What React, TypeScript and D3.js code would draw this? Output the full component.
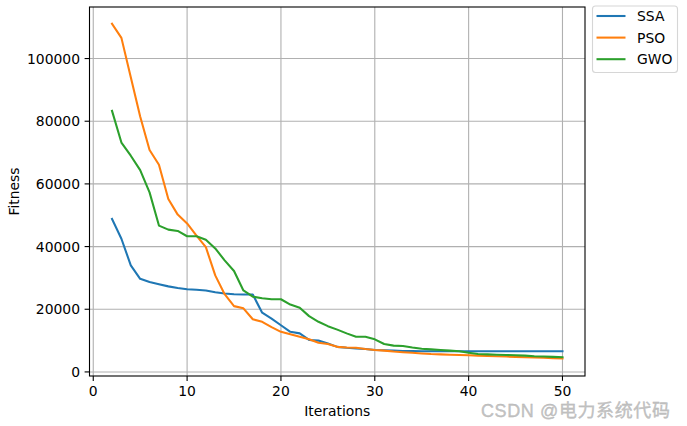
import React from "react";
import * as d3 from "d3";

const iterations = d3.range(2, 51);
const ssaValues = [48800, 42500, 34000, 29700, 28700, 28000, 27300, 26800, 26400, 26200, 26000, 25400, 25000, 24800, 24700, 24700, 18900, 17000, 14900, 12800, 12300, 10200, 10000, 9100, 8000, 7700, 7500, 7300, 7000, 6900, 6800, 6700, 6700, 6600, 6600, 6600, 6600, 6600, 6600, 6600, 6600, 6600, 6600, 6600, 6600, 6600, 6600, 6600, 6600];
const psoValues = [111100, 106600, 94000, 81500, 70800, 66100, 55200, 50200, 47400, 43500, 39800, 30800, 24800, 21000, 20300, 16800, 16000, 14300, 12800, 12000, 11200, 10400, 9300, 8900, 8000, 7800, 7700, 7300, 7000, 6800, 6500, 6300, 6100, 5900, 5700, 5600, 5500, 5400, 5300, 5200, 5100, 5000, 4900, 4800, 4700, 4600, 4500, 4400, 4300];
const gwoValues = [83300, 73200, 69000, 64400, 57300, 46700, 45400, 45000, 43300, 43300, 42200, 39400, 35600, 32200, 26000, 24000, 23500, 23200, 23200, 21500, 20500, 17800, 16000, 14600, 13500, 12300, 11200, 11200, 10400, 8900, 8400, 8300, 7800, 7400, 7200, 7000, 6800, 6600, 6100, 5700, 5600, 5500, 5400, 5300, 5200, 5000, 4900, 4800, 4700];

const seriesNames = ["SSA", "PSO", "GWO"];
const seriesColors = ["#1f77b4", "#ff7f0e", "#2ca02c"];
const xTicks = [0, 10, 20, 30, 40, 50];
const yTicks = [0, 20000, 40000, 60000, 80000, 100000];

export default function App() {
  const W = 687, H = 426;
  const left = 89.5, right = 585, top = 7, bottom = 376;
  const x = d3.scaleLinear().domain([-0.4, 52.4]).range([left, right]);
  const y = d3.scaleLinear().domain([-1300, 116450]).range([bottom, top]);
  const allSeries = [ssaValues, psoValues, gwoValues];
  const line = d3.line<number>().x((_, i) => x(iterations[i])).y((v) => y(v));
  const font = "DejaVu Sans, sans-serif";
  const fs = 13.9;

  return (
    <svg width={W} height={H} style={{ position: "absolute", left: 0, top: 0, background: "#fff" }}>
      <rect x={0} y={0} width={W} height={H} fill="#fff" />
      <defs>
        <clipPath id="plotclip">
          <rect x={left} y={top} width={right - left} height={bottom - top} />
        </clipPath>
      </defs>
      {/* grid */}
      {xTicks.map((t) => (
        <line key={"gx" + t} x1={x(t)} x2={x(t)} y1={top} y2={bottom} stroke="#b0b0b0" strokeWidth={1.1} />
      ))}
      {yTicks.map((t) => (
        <line key={"gy" + t} x1={left} x2={right} y1={y(t)} y2={y(t)} stroke="#b0b0b0" strokeWidth={1.1} />
      ))}
      {/* series */}
      <g clipPath="url(#plotclip)">
        {allSeries.map((s, i) => (
          <path key={i} d={line(s) || ""} fill="none" stroke={seriesColors[i]} strokeWidth={2.08} strokeLinejoin="round" strokeLinecap="square" />
        ))}
      </g>
      {/* spines */}
      <rect x={left} y={top} width={right - left} height={bottom - top} fill="none" stroke="#000" strokeWidth={1.1} />
      {/* x ticks */}
      {xTicks.map((t) => (
        <g key={"tx" + t}>
          <line x1={x(t)} x2={x(t)} y1={bottom} y2={bottom + 4.9} stroke="#000" strokeWidth={1.1} />
          <text x={x(t)} y={396} textAnchor="middle" fontFamily={font} fontSize={fs} fill="#000">{t}</text>
        </g>
      ))}
      {/* y ticks */}
      {yTicks.map((t) => (
        <g key={"ty" + t}>
          <line x1={left - 4.9} x2={left} y1={y(t)} y2={y(t)} stroke="#000" strokeWidth={1.1} />
          <text x={80} y={y(t) + 5} textAnchor="end" fontFamily={font} fontSize={fs} fill="#000">{t}</text>
        </g>
      ))}
      {/* axis labels */}
      <text x={(left + right) / 2} y={416} textAnchor="middle" fontFamily={font} fontSize={fs} fill="#000">Iterations</text>
      <text transform={`translate(18.5, ${(top + bottom) / 2}) rotate(-90)`} textAnchor="middle" fontFamily={font} fontSize={fs} fill="#000">Fitness</text>
      {/* legend */}
      <rect x={592.5} y={6} width={85} height={66.5} rx={3} fill="#fff" fillOpacity={0.8} stroke="#d6d6d6" strokeWidth={1.1} />
      {seriesNames.map((n, i) => {
        const ly = 16 + i * 21.6;
        return (
          <g key={n}>
            <line x1={596.5} x2={625.5} y1={ly} y2={ly} stroke={seriesColors[i]} strokeWidth={2.08} />
            <text x={637} y={ly + 5} fontFamily={font} fontSize={fs} fill="#000">{n}</text>
          </g>
        );
      })}
      {/* watermark */}
      <text x={481} y={416.5} fontFamily="Liberation Sans, Noto Sans CJK SC, sans-serif" fontSize={18} letterSpacing={0.6} fill="#c4c4c4" stroke="#b0b0b0" strokeWidth={0.3}>CSDN @电力系统代码</text>
    </svg>
  );
}
